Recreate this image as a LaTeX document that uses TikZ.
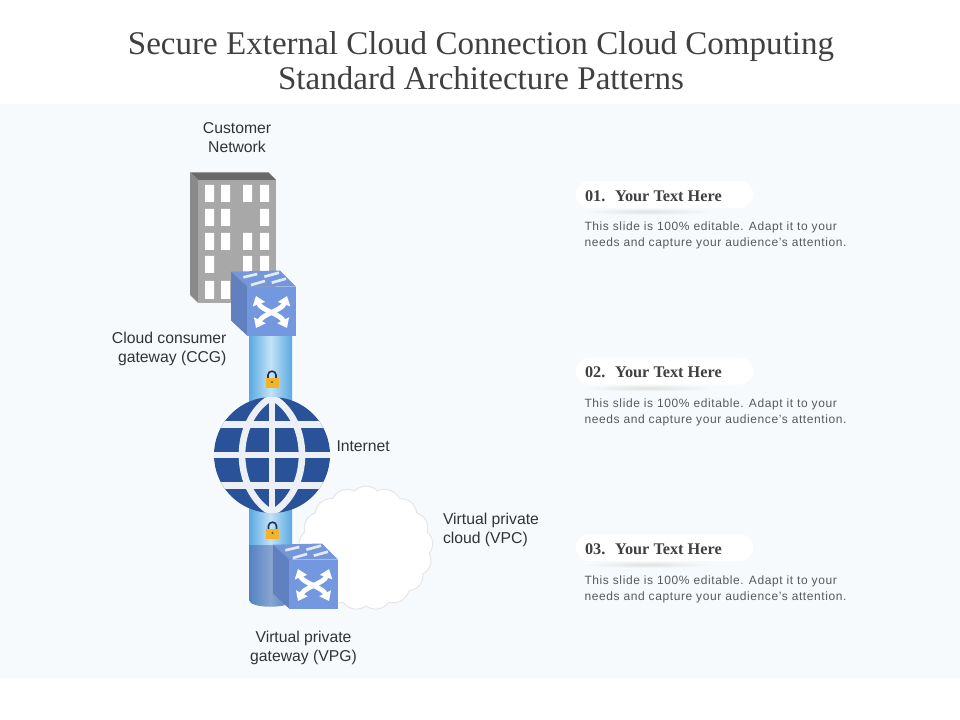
\documentclass[tikz,border=0pt]{standalone}
\usepackage{fontspec}
\setmainfont{Liberation Sans}
\newfontfamily\titlefont{Liberation Serif}
\usetikzlibrary{shapes.symbols,arrows.meta}
\definecolor{panelbg}{RGB}{246,250,252}
\definecolor{titlegray}{RGB}{64,64,64}
\definecolor{bodygray}{RGB}{89,89,89}
\definecolor{labelgray}{RGB}{51,51,51}
\definecolor{cubefront}{RGB}{115,152,224}
\definecolor{cubetop}{RGB}{118,150,218}
\definecolor{cubeside}{RGB}{96,128,192}
\definecolor{cubemark}{RGB}{226,234,250}
\definecolor{globeblue}{RGB}{42,82,152}
\definecolor{globeline}{RGB}{236,240,246}
\tikzset{every picture/.style={line width=0.75pt}}
\tikzset{
	diagram label/.style={font=\fontsize{11.8}{14.25}\selectfont,text=labelgray,align=center,inner sep=0pt},
	card title/.style={font=\titlefont\bfseries\fontsize{12.2}{14}\selectfont,text=titlegray,anchor=west,inner sep=0pt},
	card body/.style={font=\fontsize{9}{12}\selectfont\addfontfeature{LetterSpace=5},text=bodygray,align=left,anchor=north west,inner sep=0pt},
	card pill/.style={fill=white,rounded corners=10pt},
	card shadow/.style={inner color=black!12,outer color=panelbg,draw=none},
	pics/switchbox/.style={code={
		\fill [cubetop] (231,271.7) -- (280,270.5) -- (296,286.7) -- (247.3,286.7) -- cycle ;
		\fill [cubeside] (231,271.7) -- (247.3,286.7) -- (247.3,335.7) -- (231,320.5) -- cycle ;
		\fill [cubefront] (247.3,286.7) rectangle (296,335.7) ;
		\draw [cubemark,line width=2pt] (243.3,277.3) -- (257.3,274) (264.3,276.7) -- (279,272.7) (251,285) -- (265,281) (271.7,282.7) -- (286,278.7) ;
		\draw [white,line width=3.6pt,{Triangle[width=9.5pt,length=6.5pt]}-{Triangle[width=9.5pt,length=6.5pt]}] (256,296) .. controls (261,310) and (280,314) .. (287,328) ;
		\draw [white,line width=3.6pt,{Triangle[width=9.5pt,length=6.5pt]}-{Triangle[width=9.5pt,length=6.5pt]}] (287,296) .. controls (282,310) and (263,314) .. (256,328) ;
	}},
	pics/padlock/.style={code={
		\draw [color={rgb, 255:red, 30; green, 50; blue, 90 },line width=1.2pt] (-4,-5) -- (-4,-8) .. controls (-4,-13) and (4,-13) .. (4,-8) -- (4,-5) ;
		\fill [color={rgb, 255:red, 245; green, 180; blue, 40 }] (-6.5,-5.5) rectangle (6.5,4.5) ;
		\fill [color={rgb, 255:red, 110; green, 70; blue, 10 }] (0,-1) circle (1.1) ;
	}}
}

\begin{document}
\begin{tikzpicture}[x=0.75pt,y=0.75pt,yscale=-1,xscale=1]
	\useasboundingbox (0,0) rectangle (960,720);

	%Shape: Rectangle [id:panel]
	\fill [panelbg] (0,104) rectangle (960,678) ;

	% Title Node
	\node (title) [font=\titlefont\fontsize{24.8}{26.25}\selectfont,text=titlegray,align=center,inner sep=0pt] at (481,60.5) {Secure External Cloud Connection Cloud Computing\\Standard Architecture Patterns};

	%Shape: Building [id:building]
	\fill [color={rgb, 255:red, 105; green, 105; blue, 105 }] (190,172.3) -- (268.3,172.3) -- (276,180) -- (198,180) -- cycle ;
	\fill [color={rgb, 255:red, 138; green, 138; blue, 138 }] (190,172.3) -- (198,180) -- (198,302.7) -- (190,295) -- cycle ;
	\fill [color={rgb, 255:red, 168; green, 168; blue, 168 }] (198,180) rectangle (276,302.7) ;
	%Building windows
	\fill [white] (205,185) rectangle (214,202) (221,185) rectangle (230,202) (243,185) rectangle (252,202) (260,185) rectangle (269,202) ;
	\fill [white] (205,209) rectangle (214,226) (221,209) rectangle (230,226) (260,209) rectangle (269,226) ;
	\fill [white] (205,233) rectangle (214,250) (221,233) rectangle (230,250) (243,233) rectangle (252,250) (260,233) rectangle (269,250) ;
	\fill [white] (205,256) rectangle (214,273) (243,256) rectangle (252,273) (260,256) rectangle (269,273) ;
	\fill [white] (205,281) rectangle (214,299) (221,281) rectangle (230,299) ;

	%Shape: Upper tube [id:tubeupper]
	\shade [left color={rgb, 255:red, 88; green, 170; blue, 226 },right color={rgb, 255:red, 88; green, 170; blue, 226 },middle color={rgb, 255:red, 196; green, 226; blue, 246 }] (249,335) rectangle (292,402) ;
	%Shape: Lower tube [id:tubelower]
	\shade [left color={rgb, 255:red, 88; green, 170; blue, 226 },right color={rgb, 255:red, 88; green, 170; blue, 226 },middle color={rgb, 255:red, 196; green, 226; blue, 246 }] (249,505) rectangle (292,545) ;
	\shade [left color={rgb, 255:red, 82; green, 130; blue, 196 },right color={rgb, 255:red, 82; green, 130; blue, 196 },middle color={rgb, 255:red, 136; green, 164; blue, 206 }] (249,545) -- (292,545) -- (292,600) .. controls (292,609) and (249,609) .. (249,600) -- cycle ;

	%Shape: Cloud [id:vpccloud]
	\node (vpccloud) [cloud,cloud puffs=17,cloud puff arc=90,aspect=1.08,draw={rgb, 255:red, 230; green, 230; blue, 230 },fill=white,inner sep=0pt,minimum width=134*0.75pt,minimum height=124*0.75pt] at (366,548) {};

	%Shape: Globe [id:globe]
	\fill [globeblue] (272,455) circle (58) ;
	\begin{scope}
		\clip (272,455) circle (58) ;
		\draw [globeline,line width=5pt] (214,424.3) -- (330,424.3) (214,455) -- (330,455) (214,485.7) -- (330,485.7) (272,397) -- (272,513) ;
		\draw [globeline,line width=5pt] (272,397) .. controls (232,420) and (232,490) .. (272,513) .. controls (312,490) and (312,420) .. (272,397) -- cycle ;
	\end{scope}

	%Locks
	\pic [yscale=-1] at (272,383) {padlock} ;
	\pic [yscale=-1] at (272.5,534) {padlock} ;

	%Switch boxes
	\pic [yscale=-1] at (0,0) {switchbox} ;
	\pic [yscale=-1] at (42,273) {switchbox} ;

	% Text Node
	\node (customer) [diagram label] at (237,137.5) {Customer\\Network};
	% Text Node
	\node (ccg) [diagram label,anchor=east,align=right] at (227,348.5) {Cloud consumer\\gateway (CCG)};
	% Text Node
	\node (internet) [diagram label,anchor=west] at (336,446) {Internet};
	% Text Node
	\node (vpc) [diagram label,anchor=west,align=left] at (442.5,530) {Virtual private\\cloud (VPC)};
	% Text Node
	\node (vpg) [diagram label] at (303.5,648) {Virtual private\\gateway (VPG)};

	%Card 01
	\shade [card shadow] (648,211.5) ellipse (65 and 3.5) ;
	\fill [card pill] (576,181) rectangle (753,208) ;
	\node (head01) [card title] at (584.5,196) {01.\hspace{0.6em}Your Text Here};
	\node (body01) [card body] at (584,221) {This slide is 100\% editable. Adapt it to your\\needs and capture your audience’s attention.};
	%Card 02
	\shade [card shadow] (648,388) ellipse (65 and 3.5) ;
	\fill [card pill] (576,357.5) rectangle (753,384.5) ;
	\node (head02) [card title] at (584.5,372.5) {02.\hspace{0.6em}Your Text Here};
	\node (body02) [card body] at (584,398) {This slide is 100\% editable. Adapt it to your\\needs and capture your audience’s attention.};
	%Card 03
	\shade [card shadow] (648,564.5) ellipse (65 and 3.5) ;
	\fill [card pill] (576,534) rectangle (753,561) ;
	\node (head03) [card title] at (584.5,549) {03.\hspace{0.6em}Your Text Here};
	\node (body03) [card body] at (584,575) {This slide is 100\% editable. Adapt it to your\\needs and capture your audience’s attention.};
\end{tikzpicture}
\end{document}
